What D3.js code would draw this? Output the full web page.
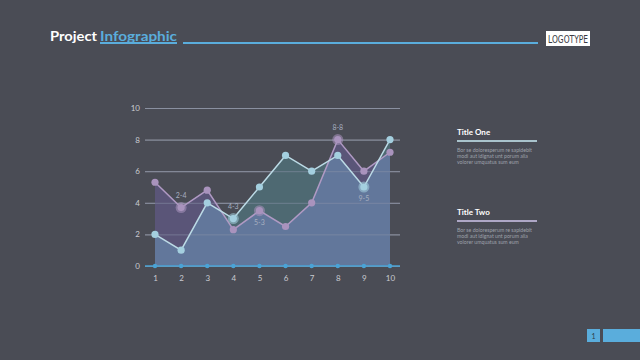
<!DOCTYPE html>
<html><head><meta charset="utf-8">
<script src="https://cdn.jsdelivr.net/npm/d3@7"></script>
<style>
html,body{margin:0;padding:0;background:#4a4c55;}
svg{display:block;}
</style></head>
<body>
<svg id="c" width="640" height="360"></svg>
<script>
const categories = [1,2,3,4,5,6,7,8,9,10];
const seriesA = [2,1,4,3,5,7,6,7,5,8];
const seriesB = [5.3,3.7,4.8,2.3,3.5,2.5,4,8,6,7.2];
const yTicks = [0,2,4,6,8,10];
const labels = [
  {series:"B", i:1, text:"2-4", pos:"above"},
  {series:"A", i:3, text:"4-3", pos:"above"},
  {series:"B", i:4, text:"5-3", pos:"below"},
  {series:"B", i:7, text:"8-8", pos:"above"},
  {series:"A", i:8, text:"9-5", pos:"below"}
];
const sideTitles = ["Title One","Title Two"];
const sideText = ["Bor se doloresperum re sapidebit","modi aut idignat unt porum alia","volorer umquatus sum eum"];

const svg = d3.select("#c");
const font = "Lato, 'Open Sans', sans-serif";
svg.append("rect").attr("width",640).attr("height",360).attr("fill","#4a4c55");

// header
svg.append("text").attr("x",50).attr("y",41).attr("font-family",font).attr("font-weight",700).attr("font-size",14)
  .attr("fill","#ffffff").attr("textLength",47).attr("lengthAdjust","spacingAndGlyphs").text("Project");
svg.append("text").attr("x",100).attr("y",41).attr("font-family",font).attr("font-weight",700).attr("font-size",14)
  .attr("fill","#5aaddc").attr("textLength",77).attr("lengthAdjust","spacingAndGlyphs").text("Infographic");
svg.append("line").attr("x1",100).attr("x2",177).attr("y1",43).attr("y2",43).attr("stroke","#5aaddc").attr("stroke-width",2);
svg.append("line").attr("x1",183).attr("x2",538).attr("y1",43).attr("y2",43).attr("stroke","#5aaddc").attr("stroke-width",2);
svg.append("rect").attr("x",546).attr("y",31).attr("width",44).attr("height",15).attr("fill","#ffffff");
svg.append("text").attr("x",568).attr("y",42.5).attr("text-anchor","middle").attr("font-family","'Liberation Sans Narrow','DejaVu Sans Condensed',sans-serif")
  .attr("font-size",10.5).attr("fill","#3a3c44").attr("textLength",40).attr("lengthAdjust","spacingAndGlyphs").text("LOGOTYPE");

// scales
const x = d3.scaleLinear().domain([1,10]).range([155,390]);
const y = d3.scaleLinear().domain([0,10]).range([266,108]);

// grid via axis
const ga = svg.append("g").attr("transform","translate(145,0)")
  .call(d3.axisLeft(y).tickValues(yTicks).tickSize(-255).tickPadding(5));
ga.select(".domain").remove();
ga.selectAll("line").attr("stroke","#8a8d96").attr("stroke-width",1);
ga.selectAll("text").attr("fill","#c9cbd1").attr("font-family",font).attr("font-size",8);

const dataA = categories.map((c,i)=>({x:c,y:seriesA[i]}));
const dataB = categories.map((c,i)=>({x:c,y:seriesB[i]}));
const area = d3.area().x(d=>x(d.x)).y0(y(0)).y1(d=>y(d.y));
const line = d3.line().x(d=>x(d.x)).y(d=>y(d.y));

const defs = svg.append("defs");
defs.append("clipPath").attr("id","clipB").append("path").attr("d",area(dataB));

svg.append("path").attr("d",area(dataA)).attr("fill","#4e6972");
svg.append("path").attr("d",area(dataB)).attr("fill","#5a5578");
svg.append("path").attr("d",area(dataA)).attr("fill","#62779b").attr("clip-path","url(#clipB)");

// redraw gridlines faintly over area
const ga2 = svg.append("g").attr("transform","translate(145,0)")
  .call(d3.axisLeft(y).tickValues(yTicks.slice(1)).tickSize(-255).tickFormat(""));
ga2.select(".domain").remove();
ga2.selectAll("line").attr("stroke","#8a93aa").attr("stroke-opacity",0.55);

// baseline
svg.append("line").attr("x1",145).attr("x2",400).attr("y1",y(0)).attr("y2",y(0)).attr("stroke","#4aa3d6").attr("stroke-width",1.5);
svg.selectAll(".bd").data(categories).enter().append("circle").attr("cx",d=>x(d)).attr("cy",y(0)).attr("r",2.2).attr("fill","#4aa3d6");

// x axis
const xa = svg.append("g").attr("transform",`translate(0,${y(0)})`)
  .call(d3.axisBottom(x).tickValues(categories).tickSize(0).tickPadding(9).tickFormat(d3.format("d")));
xa.select(".domain").remove();
xa.selectAll("text").attr("fill","#c9cbd1").attr("font-family",font).attr("font-size",8);

// lines
svg.append("path").attr("d",line(dataB)).attr("fill","none").attr("stroke","#b09ac4").attr("stroke-width",1.5);
svg.append("path").attr("d",line(dataA)).attr("fill","none").attr("stroke","#bcdbe6").attr("stroke-width",1.5);

const colA = "#a4cfdf", colB = "#a993bd";
// highlight rings
labels.forEach(l=>{
  const d = l.series==="A"?dataA[l.i]:dataB[l.i];
  const c = l.series==="A"?colA:colB;
  svg.append("circle").attr("cx",x(d.x)).attr("cy",y(d.y)).attr("r",5.5).attr("fill",c).attr("fill-opacity",0.55);
});
svg.selectAll(".pb").data(dataB).enter().append("circle").attr("cx",d=>x(d.x)).attr("cy",d=>y(d.y)).attr("r",3.6).attr("fill",colB);
svg.selectAll(".pa").data(dataA).enter().append("circle").attr("cx",d=>x(d.x)).attr("cy",d=>y(d.y)).attr("r",3.6).attr("fill",colA);

labels.forEach(l=>{
  const d = l.series==="A"?dataA[l.i]:dataB[l.i];
  const yy = l.pos==="above"? y(d.y)-10 : y(d.y)+14;
  svg.append("text").attr("x",x(d.x)).attr("y",yy).attr("text-anchor","middle")
    .attr("font-family",font).attr("font-size",7).attr("fill","#a7afc0").text(l.text);
});

// side panel
const lineCols = ["#a9c3cc","#aea7c6"];
sideTitles.forEach((t,k)=>{
  const top = 133 + k*80;
  svg.append("text").attr("x",457).attr("y",top+2).attr("font-family",font).attr("font-weight",700)
    .attr("font-size",8).attr("fill","#ffffff").text(t);
  svg.append("line").attr("x1",457).attr("x2",537).attr("y1",top+8).attr("y2",top+8).attr("stroke",lineCols[k]).attr("stroke-width",2);
  sideText.forEach((s,j)=>{
    svg.append("text").attr("x",457).attr("y",top+19+j*6).attr("font-family",font).attr("font-size",5.2)
      .attr("fill","#9ea1aa").text(s);
  });
});

// page number
svg.append("rect").attr("x",587).attr("y",329).attr("width",13).attr("height",13).attr("fill","#5aaddc");
svg.append("text").attr("x",593.5).attr("y",338.5).attr("text-anchor","middle").attr("font-family",font).attr("font-size",7).attr("fill","#2e3a48").text("1");
svg.append("rect").attr("x",603).attr("y",329).attr("width",37).attr("height",13).attr("fill","#5aaddc");
</script>
</body></html>
